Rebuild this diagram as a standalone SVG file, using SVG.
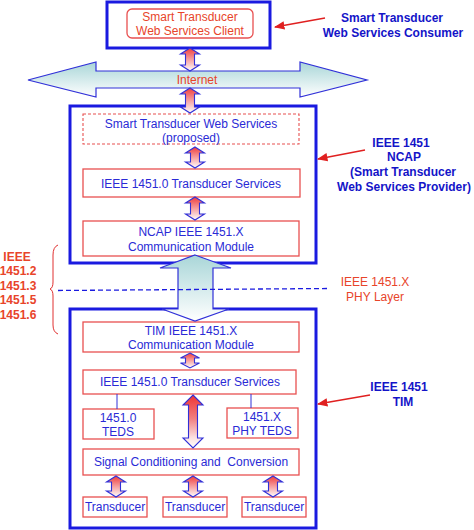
<svg xmlns="http://www.w3.org/2000/svg" width="474" height="530" viewBox="0 0 474 530">
<style>
text{font-family:"Liberation Sans",Arial,sans-serif;font-size:12px;text-anchor:middle}
.bt{fill:#2a2ad6}
.rt{fill:#e8442a}
.lbl{fill:#1414c8;font-weight:bold;font-size:12px}
.side{fill:#e8442a;font-weight:bold}
.outer{fill:#fff;stroke:#1a1ae0;stroke-width:3}
.inner{fill:#fff;stroke:#e85050;stroke-width:1.3}
.dash{fill:#fff;stroke:#e85050;stroke-width:1.1;stroke-dasharray:3 2}
.sa{fill:url(#rg);stroke:#3030d8;stroke-width:1.1}
.ba{fill:url(#tg);stroke:#3030d8;stroke-width:1.2}
.ptr{stroke:#e02020;stroke-width:1.5;fill:none}
</style>
<defs>
<linearGradient id="rg" x1="0" y1="0" x2="0" y2="1">
<stop offset="0" stop-color="#f03c3c"/><stop offset="0.5" stop-color="#f6a0a0"/><stop offset="1" stop-color="#ffffff"/>
</linearGradient>
<linearGradient id="rg2" x1="0" y1="0" x2="0" y2="1">
<stop offset="0" stop-color="#ee3434"/><stop offset="0.45" stop-color="#f28080"/><stop offset="0.8" stop-color="#fbe0e0"/><stop offset="1" stop-color="#ffffff"/>
</linearGradient>
<linearGradient id="tg" x1="0" y1="0" x2="0" y2="1">
<stop offset="0" stop-color="#a9d6d8"/><stop offset="1" stop-color="#ffffff"/>
</linearGradient>
<marker id="ah" viewBox="0 0 10 10" refX="9" refY="5" markerWidth="7" markerHeight="7" orient="auto">
<path d="M0,1 L10,5 L0,9 Z" fill="#e02020"/>
</marker>
</defs>

<g id="client">
<rect class="outer" x="107" y="2" width="163" height="46"/>
<rect class="inner" x="127" y="9" width="126" height="29" rx="5"/>
<text class="rt" x="190" y="21">Smart Transducer</text>
<text class="rt" x="190" y="35">Web Services Client</text>
</g>

<g id="internet">
<path class="ba" d="M28,80 L96,62 L96,71 L300,71 L300,62 L367,80 L300,97 L300,88 L96,88 L96,97 Z"/>
<text class="rt" x="197" y="84">Internet</text>
</g>

<g id="ncap">
<rect class="outer" x="70" y="106" width="246" height="157"/>
</g>
<g id="stws">
<rect class="dash" x="83" y="114" width="216" height="30"/>
<text class="bt" x="191" y="128">Smart Transducer Web Services</text>
<text class="bt" x="191" y="142">(proposed)</text>
</g>
<g id="ncap-ts">
<rect class="inner" x="83" y="169" width="217" height="28"/>
<text class="bt" x="191" y="188">IEEE 1451.0 Transducer Services</text>
</g>
<g id="ncap-comm">
<rect class="inner" x="83" y="221" width="216" height="35"/>
<text class="bt" x="191" y="236">NCAP IEEE 1451.X</text>
<text class="bt" x="191" y="251">Communication Module</text>
</g>

<g id="tim">
<rect class="outer" x="70" y="309" width="246" height="219"/>
</g>
<g id="tim-comm">
<rect class="inner" x="83" y="322" width="216" height="30"/>
<text class="bt" x="191" y="335">TIM IEEE 1451.X</text>
<text class="bt" x="191" y="349">Communication Module</text>
</g>
<g id="tim-ts">
<rect class="inner" x="83" y="370" width="213" height="24"/>
<text class="bt" x="190" y="386">IEEE 1451.0 Transducer Services</text>
</g>
<g id="teds0">
<rect class="inner" x="83" y="409" width="71" height="30"/>
<text class="bt" x="118" y="422">1451.0</text>
<text class="bt" x="118" y="436">TEDS</text>
</g>
<g id="tedsx">
<rect class="inner" x="227" y="408" width="71" height="30"/>
<text class="bt" x="262" y="421">1451.X</text>
<text class="bt" x="262" y="435">PHY TEDS</text>
</g>
<g id="signal">
<rect class="inner" x="83" y="449" width="216" height="26"/>
<text class="bt" x="191" y="466" xml:space="preserve">Signal Conditioning and  Conversion</text>
</g>
<g id="tr1">
<rect class="inner" x="83" y="497" width="64" height="20"/>
<text class="bt" x="115" y="511">Transducer</text>
</g>
<g id="tr2">
<rect class="inner" x="163" y="497" width="64" height="20"/>
<text class="bt" x="195" y="511">Transducer</text>
</g>
<g id="tr3">
<rect class="inner" x="242" y="497" width="64" height="20"/>
<text class="bt" x="274" y="511">Transducer</text>
</g>

<g id="connectors">
<path class="sa" d="M190,48 L199.5,54 L194.5,54 L194.5,65 L199.5,65 L190,71 L180.5,65 L185.5,65 L185.5,54 L180.5,54 Z"/>
<path class="sa" d="M190,88 L199.5,94 L194.5,94 L194.5,107 L199.5,107 L190,113 L180.5,107 L185.5,107 L185.5,94 L180.5,94 Z"/>
<path class="sa" d="M195,147 L204.5,153 L199.5,153 L199.5,162 L204.5,162 L195,168 L185.5,162 L190.5,162 L190.5,153 L185.5,153 Z"/>
<path class="sa" d="M195,197 L204.5,203 L199.5,203 L199.5,214 L204.5,214 L195,220 L185.5,214 L190.5,214 L190.5,203 L185.5,203 Z"/>
<path class="ba" d="M195,255 L231,268 L213,268 L213,309 L229,309 L195,321 L162,309 L178,309 L178,268 L160,268 Z"/>
<path class="sa" d="M190,353 L199.5,358 L194.5,358 L194.5,363 L199.5,363 L190,368 L180.5,363 L185.5,363 L185.5,358 L180.5,358 Z"/>
<path fill="url(#rg2)" stroke="#3030d8" stroke-width="1.1" d="M193,395 L203,405 L197.5,405 L197.5,438 L203,438 L193,448 L183,438 L188.5,438 L188.5,405 L183,405 Z"/>
<line x1="117" y1="394" x2="117" y2="409" stroke="#3030d8" stroke-width="1"/>
<line x1="251" y1="394" x2="251" y2="408" stroke="#3030d8" stroke-width="1"/>
<path class="sa" d="M116,476 L125.5,482 L120.5,482 L120.5,491 L125.5,491 L116,497 L106.5,491 L111.5,491 L111.5,482 L106.5,482 Z"/>
<path class="sa" d="M193,476 L202.5,482 L197.5,482 L197.5,491 L202.5,491 L193,497 L183.5,491 L188.5,491 L188.5,482 L183.5,482 Z"/>
<path class="sa" d="M273,476 L282.5,482 L277.5,482 L277.5,491 L282.5,491 L273,497 L263.5,491 L268.5,491 L268.5,482 L263.5,482 Z"/>
<line x1="58" y1="290.5" x2="328" y2="288.5" stroke="#1a1ae0" stroke-width="1.3" stroke-dasharray="5 3"/>
<line class="ptr" x1="325" y1="18" x2="275" y2="27" marker-end="url(#ah)"/>
<line class="ptr" x1="365" y1="150" x2="318" y2="159" marker-end="url(#ah)"/>
<line class="ptr" x1="370" y1="395" x2="318" y2="404" marker-end="url(#ah)"/>
<path d="M58,245 Q53,247 53,255 L53,282 Q53,288 50,289 Q53,290 53,296 L53,325 Q53,332 58,334" fill="none" stroke="#e03030" stroke-width="1"/>
</g>

<g id="labels">
<text class="lbl" x="392" y="22">Smart Transducer</text>
<text class="lbl" x="393" y="37">Web Services Consumer</text>
<text class="lbl" x="401" y="147">IEEE 1451</text>
<text class="lbl" x="404" y="161">NCAP</text>
<text class="lbl" x="403" y="176">(Smart Transducer</text>
<text class="lbl" x="404" y="191">Web Services Provider)</text>
<text class="lbl" x="399" y="391">IEEE 1451</text>
<text class="lbl" x="403" y="406">TIM</text>
<text class="rt" x="375" y="286">IEEE 1451.X</text>
<text class="rt" x="375" y="301">PHY Layer</text>
<text class="side" x="17" y="261">IEEE</text>
<text class="side" x="18" y="275">1451.2</text>
<text class="side" x="18" y="290">1451.3</text>
<text class="side" x="18" y="304">1451.5</text>
<text class="side" x="18" y="319">1451.6</text>
</g>
</svg>
